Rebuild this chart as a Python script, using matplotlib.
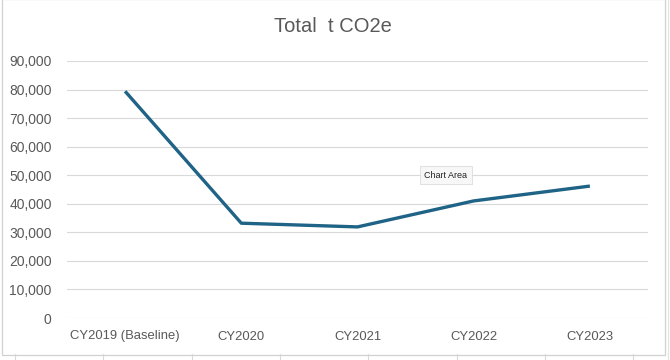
import matplotlib
matplotlib.use("Agg")
import matplotlib.pyplot as plt
from matplotlib.patches import Rectangle
from matplotlib.lines import Line2D

# Data
years = ["CY2019 (Baseline)", "CY2020", "CY2021", "CY2022", "CY2023"]
total_tco2e = [79400, 33200, 31900, 41000, 46200]
y_ticks = list(range(0, 90001, 10000))

FONT = ["Liberation Sans", "DejaVu Sans"]
W, H = 670, 360

fig = plt.figure(figsize=(W / 100, H / 100), dpi=100)
fig.patch.set_facecolor("white")

# spreadsheet cells behind the chart object
for x in [15, 103, 192, 280, 368, 457, 545, 633]:
    fig.add_artist(Line2D([x / W, x / W], [0, 6 / H], color="#d9d9d9", lw=0.8))
fig.add_artist(Line2D([668 / W, 668 / W], [0, 1], color="#e3e3e3", lw=0.8))
# chart area border
fig.add_artist(Rectangle((2 / W, 5 / H), 663 / W, 356 / H, fill=False,
                         edgecolor="#d0d0d0", lw=0.9))

ax = fig.add_axes([67 / W, 42 / H, 581 / W, 257 / H])
x = list(range(len(years)))
ax.plot(x, total_tco2e, color="#1f6386", lw=2.4, solid_capstyle="butt", zorder=3)

ax.set_xlim(-0.5, len(years) - 0.5)
ax.set_ylim(0, 90000)
ax.set_yticks(y_ticks)
ax.set_yticklabels([f"{v:,}" for v in y_ticks], fontfamily=FONT,
                   fontsize=10, color="#595959")
ax.set_xticks(x)
ax.set_xticklabels(years, fontfamily=FONT, fontsize=9.4, color="#595959")
ax.tick_params(axis="both", length=0)
ax.tick_params(axis="y", pad=11)
ax.tick_params(axis="x", pad=9)
ax.grid(axis="y", color="#d9d9d9", lw=0.8)
ax.set_axisbelow(True)
for s in ax.spines.values():
    s.set_visible(False)

fig.text(333 / W, 1 - 26 / H, "Total  t CO2e", ha="center", va="center",
         fontfamily=FONT, fontsize=14.5, color="#595959")

# hover tooltip
fig.text(446 / W, 1 - 175 / H, "Chart Area", ha="center", va="center",
         fontfamily=FONT, fontsize=6.5, color="#222222",
         bbox=dict(boxstyle="square,pad=0.5", facecolor="#f7f7f7",
                   edgecolor="#dcdcdc", lw=0.6), zorder=10)

fig.savefig("out.png", dpi=100)
